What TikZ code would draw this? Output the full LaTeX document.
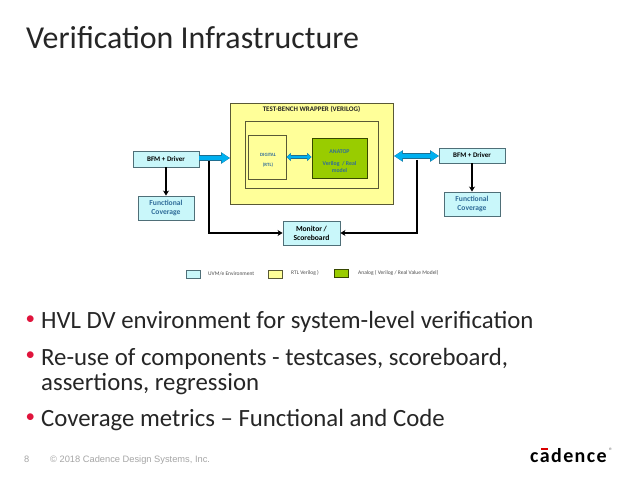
\documentclass[tikz,border=0pt]{standalone}
\usepackage{fontspec}
\setmainfont{Carlito}
\newfontfamily\footfont{Liberation Sans}
\newfontfamily\logofont[LetterSpace=7]{Carlito}
\usetikzlibrary{arrows.meta}
\definecolor{uvmc}{HTML}{C9F7FA}
\definecolor{rtlc}{HTML}{FFFF99}
\definecolor{anac}{HTML}{99CC00}
\definecolor{edgec}{HTML}{4F6F78}
\definecolor{labelc}{HTML}{2F6C99}
\definecolor{arrowc}{HTML}{00B0F0}
\definecolor{arrowe}{HTML}{1F6E90}
\definecolor{titlec}{HTML}{262626}
\definecolor{footc}{HTML}{A6A6A6}
\definecolor{bulletc}{HTML}{E0143C}
\tikzset{
  x=1pt,y=-1pt,
  uvmbox/.style={draw=edgec,line width=0.9pt,fill=uvmc,inner sep=0pt,align=center,font=\bfseries\fontsize{7}{8.5}\selectfont},
  rtlbox/.style={draw=black!65!rtlc,line width=0.9pt,fill=rtlc,inner sep=0pt,align=center},
  greenbox/.style={draw=black!65!anac,line width=0.9pt,fill=anac,inner sep=0pt,align=center},
  boxlabel/.style={inner sep=0pt,align=center,text=labelc},
  link/.style={draw=black,line width=2pt,-{Stealth[length=5pt,width=6pt]}},
  bullet/.style={anchor=base west,inner sep=0pt,text=titlec,font=\fontsize{24.8}{28}\selectfont},
  bulletmark/.style={anchor=base west,inner sep=0pt,text=bulletc,font=\fontsize{19}{20}\selectfont},
  legendtext/.style={anchor=west,inner sep=0pt,text=black!70,font=\fontsize{5.5}{6}\selectfont},
  legendbox/.style={minimum width=14pt,minimum height=8pt},
  fatedge/.style={draw=arrowe,line width=6pt,#1},
  fatfill/.style={draw=arrowc,line width=4.4pt,#1}
}
\begin{document}
\begin{tikzpicture}
\useasboundingbox (0,0) rectangle (638,478);
\fill[white] (0,0) rectangle (638,478);
\node[anchor=base west,inner sep=0pt,text=titlec,font=\fontsize{31.9}{36}\selectfont] (title) at (26,48.5) {Verification Infrastructure};
% wrapper
\node[rtlbox,minimum width=163pt,minimum height=101pt] (wrap) at (311.5,153.5) {};
\node[anchor=base,inner sep=0pt,text=black!85,font=\bfseries\fontsize{7}{8}\selectfont] (wraplabel) at (311.5,112) {TEST-BENCH WRAPPER (VERILOG)};
\node[rtlbox,minimum width=133pt,minimum height=67pt] (inner) at (311.5,154.5) {};
\node[rtlbox,minimum width=38pt,minimum height=44pt] (digital) at (267,157) {};
\node[boxlabel,font=\bfseries\fontsize{4.8}{10}\selectfont] (digitaltext) at (268,160) {DIGITAL\\(RTL)};
\node[greenbox,minimum width=55pt,minimum height=40pt] (analog) at (339.5,158) {};
\node[boxlabel,font=\bfseries\fontsize{5.8}{7.5}\selectfont] (analogtext) at (339.5,161) {ANATOP\\[4.5pt]Verilog\ \ / Real\\model};
% boxes
\node[uvmbox,minimum width=66pt,minimum height=16pt] (bfml) at (166,159) {BFM + Driver};
\node[uvmbox,minimum width=66pt,minimum height=15pt] (bfmr) at (472,155.5) {BFM + Driver};
\node[uvmbox,minimum width=56pt,minimum height=24pt,text=labelc,font=\bfseries\fontsize{7.6}{9}\selectfont] (funcl) at (166,208) {Functional\\Coverage};
\node[uvmbox,minimum width=56pt,minimum height=24pt,text=labelc,font=\bfseries\fontsize{7.6}{9}\selectfont] (funcr) at (472,204) {Functional\\Coverage};
\node[uvmbox,minimum width=57pt,minimum height=24pt,font=\bfseries\fontsize{7.6}{9}\selectfont] (mon) at (311.5,233) {Monitor /\\Scoreboard};
% connectors
\coordinate (jl) at (209,161);
\coordinate (jr) at (417,160);
\draw[link] (bfml.south) -- (funcl.north);
\draw[link] (bfmr.south) -- (funcr.north);
\draw[link] (jl) |- (mon.west);
\draw[link] (jr) |- (mon.east);
% block arrows
\foreach \st/\wd in {fatedge/0.9,fatfill/0}{
  \draw[\st={-{Triangle[length=8pt+\wd pt,width=10pt+\wd pt]}}] ([yshift=1pt]bfml.east) -- ([yshift=-4.5pt,xshift=\wd pt*.5]wrap.west);
  \draw[\st={{Triangle[length=8pt+\wd pt,width=10pt+\wd pt]}-{Triangle[length=8pt+\wd pt,width=10pt+\wd pt]}}] ([xshift=1pt-\wd pt*.5,yshift=-2.5pt]wrap.east) -- ([xshift=\wd pt*.5,yshift=-.5pt]bfmr.west);
}
\draw[draw=arrowe,line width=4pt,{Triangle[length=4.5pt,width=8pt]}-{Triangle[length=4.5pt,width=8pt]}] ([yshift=0pt]digital.east) -- ([yshift=1pt]analog.west);
\draw[draw=arrowc,line width=2.8pt,{Triangle[length=3.6pt,width=6.6pt]}-{Triangle[length=3.6pt,width=6.6pt]}] ([xshift=.5pt]digital.east) -- ([xshift=-.5pt,yshift=1pt]analog.west);
% legend
\node[uvmbox,legendbox] (lega) at (193,274) {};
\node[legendtext] (legat) at (208,273.5) {UVM/e Environment};
\node[rtlbox,legendbox] (legb) at (275,274) {};
\node[legendtext] (legbt) at (291,273) {RTL Verilog )};
\node[greenbox,legendbox] (legc) at (341.5,273.5) {};
\node[legendtext] (legct) at (358,273) {Analog ( Verilog / Real Value Model)};
% bullets
\node[bulletmark] (b1) at (25.5,325) {•};
\node[bullet] (t1) at (41,328.5) {HVL DV environment for system-level verification};
\node[bulletmark] (b2) at (25.5,361) {•};
\node[bullet] (t2) at (41,366) {Re-use of components - testcases, scoreboard,};
\node[bullet] (t2b) at (41,391) {assertions, regression};
\node[bulletmark] (b3) at (25.5,423) {•};
\node[bullet] (t3) at (41,426.5) {Coverage metrics – Functional and Code};
% footer
\node[anchor=base west,inner sep=0pt,text=footc,font=\footfont\fontsize{9.3}{11}\selectfont] (pg) at (24,463) {8};
\node[anchor=base west,inner sep=0pt,text=footc,font=\footfont\fontsize{9.3}{11}\selectfont] (copy) at (50,463) {© 2018 Cadence Design Systems, Inc.};
% logo
\node[anchor=base west,inner sep=0pt,text=black,font=\logofont\bfseries\fontsize{20}{22}\selectfont] (logo) at (530,463) {cadence};
\fill[red!85!black] (541,448) rectangle (548,450);
\node[anchor=base west,inner sep=0pt,text=black!70,font=\footfont\fontsize{3.5}{5}\selectfont] (reg) at (609,451) {®};
\end{tikzpicture}
\end{document}
